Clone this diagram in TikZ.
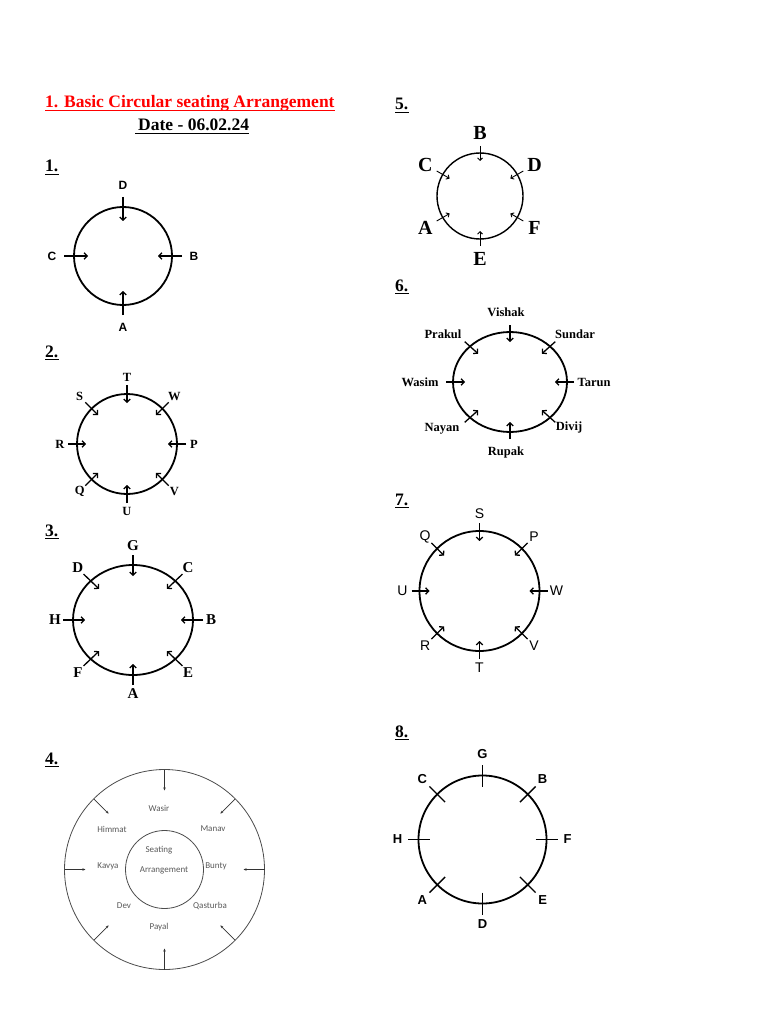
\documentclass[tikz,border=0pt]{standalone}
\usepackage{fontspec}
\setmainfont{Liberation Serif}
\setsansfont{Liberation Sans}
\newfontfamily\calibrifont{Carlito}
\usetikzlibrary{arrows.meta,calc}

\tikzset{
  ring/.style={line width=1.8pt},
  seat/.style={->, line width=1.3pt},
  head/.style={anchor=base west, inner sep=0pt, font=\bfseries\fontsize{17.5}{20}\selectfont},
  uline/.style={line width=1pt},
  serifname/.style={font=\bfseries\fontsize{#1}{#1}\selectfont, inner sep=1pt},
  sansname/.style={font=\sffamily\fontsize{#1}{#1}\selectfont, inner sep=1pt},
  sansbold/.style={font=\sffamily\bfseries\fontsize{#1}{#1}\selectfont, inner sep=1pt},
  guest/.style={font=\calibrifont\fontsize{9}{10}\selectfont, text=black!65, inner sep=0pt},
}

\begin{document}
\begin{tikzpicture}[x=1pt, y=1pt, >={Straight Barb[length=3pt,width=6.5pt]}]
\useasboundingbox (0,0) rectangle (768,-1024);

% title and date
\node[head, text=red] (title) at (45,-108) {1. Basic Circular seating Arrangement};
\draw[uline, red] ([yshift=-2.5]title.base west) -- ([yshift=-2.5]title.base east);
\node[head] (date) at (138,-131) {Date - 06.02.24};
\draw[uline] ([xshift=-3,yshift=-2.5]date.base west) -- ([yshift=-2.5]date.base east);

% numbers
\foreach \n/\x/\y in {1/45/172, 2/45/357, 3/45/536, 4/45/764, 5/395/110, 6/395/291, 7/395/505, 8/395/737}{
  \node[head] (h\n) at (\x,-\y) {\n.};
  \draw[uline] ([yshift=-2.5]h\n.base west) -- ([yshift=-2.5]h\n.base east);
}

% 1.
\coordinate (c1) at (123,-256);
\draw[ring] (c1) circle (49);
\foreach \a/\l in {90/D, 0/B, 270/A, 180/C}{
  \draw[seat] ($(c1)+(\a:59)$) -- ($(c1)+(\a:35)$);
  \node[sansbold=12] (p1\l) at ($(c1)+(\a:71)$) {\l};
}

% 2.
\coordinate (c2) at (127,-444);
\draw[ring] (c2) circle (50);
\foreach \a/\l in {90/T, 45/W, 0/P, 315/V, 270/U, 225/Q, 180/R, 135/S}{
  \draw[seat] ($(c2)+(\a:59)$) -- ($(c2)+(\a:41)$);
  \node[serifname=12.5] (p2\l) at ($(c2)+(\a:67)$) {\l};
}

% 3.
\coordinate (c3) at (133,-620);
\draw[ring] (c3) ellipse (60 and 55);
\foreach \a/\l in {90/G, 45/C, 0/B, 315/E, 270/A, 225/F, 180/H, 135/D}{
  \draw[seat] ($(c3)+(\a:70 and 65)$) -- ($(c3)+(\a:48 and 44)$);
  \node[serifname=15] (p3\l) at ($(c3)+(\a:78 and 74)$) {\l};
}

% 4.
\coordinate (c4) at (164.5,-869.5);
\draw[black!70, line width=0.8pt] (c4) circle (100);
\draw[black!70, line width=0.8pt] (c4) circle (39);
\foreach \a in {0,45,...,315}{
  \draw[black!80, line width=0.7pt, -{Stealth[length=3pt,width=2.5pt]}] ($(c4)+(\a:100)$) -- ($(c4)+(\a:79)$);
}
\foreach \x/\y/\l in {159/808/Wasir, 112/829/Himmat, 213/829/Manav, 108/866/Kavya,
  216/866/Bunty, 124/906/Dev, 210/906/Qasturba, 159/927/Payal, 159/850/Seating, 164/870/Arrangement}{
  \node[guest] (g\l) at (\x,-\y) {\l};
}

% 5.
\coordinate (c5) at (480,-196);
\draw[line width=1.4pt] (c5) circle (43);
\foreach \a/\l in {90/B, 30/D, 330/F, 270/E, 210/A, 150/C}{
  \draw[->, line width=0.9pt, >={Straight Barb[length=2.5pt,width=5pt]}] ($(c5)+(\a:50)$) -- ($(c5)+(\a:35)$);
  \node[serifname=20] (p5\l) at ($(c5)+(\a:63)$) {\l};
}

% 6.
\coordinate (c6) at (510,-382);
\draw[ring] (c6) ellipse (57 and 50);
\foreach \a/\l/\dx/\dy in {90/Vishak/-4/70, 45/Sundar/65/48, 0/Tarun/84/0, 315/Divij/59/-45,
  270/Rupak/-4/-70, 225/Nayan/-68/-47, 180/Wasim/-90/0, 135/Prakul/-67/48}{
  \draw[seat] ($(c6)+(\a:64 and 57)$) -- ($(c6)+(\a:45 and 40)$);
  \node[serifname=12.5] (p6\l) at ($(c6)+(\dx,\dy)$) {\l};
}

% 7.
\coordinate (c7) at (479.5,-591);
\draw[ring] (c7) circle (60);
\foreach \a/\l in {90/S, 45/P, 0/W, 315/V, 270/T, 225/R, 180/U, 135/Q}{
  \draw[seat] ($(c7)+(\a:68)$) -- ($(c7)+(\a:50)$);
  \node[sansname=14] (p7\l) at ($(c7)+(\a:77)$) {\l};
}

% 8.
\coordinate (c8) at (482.5,-839.5);
\draw[ring] (c8) circle (64);
\foreach \a/\l in {90/G, 45/B, 0/F, 315/E, 270/D, 225/A, 180/H, 135/C}{
  \draw[line width=1.4pt] ($(c8)+(\a:53)$) -- ($(c8)+(\a:75)$);
  \node[sansbold=13] (p8\l) at ($(c8)+(\a:85)$) {\l};
}
\end{tikzpicture}
\end{document}
